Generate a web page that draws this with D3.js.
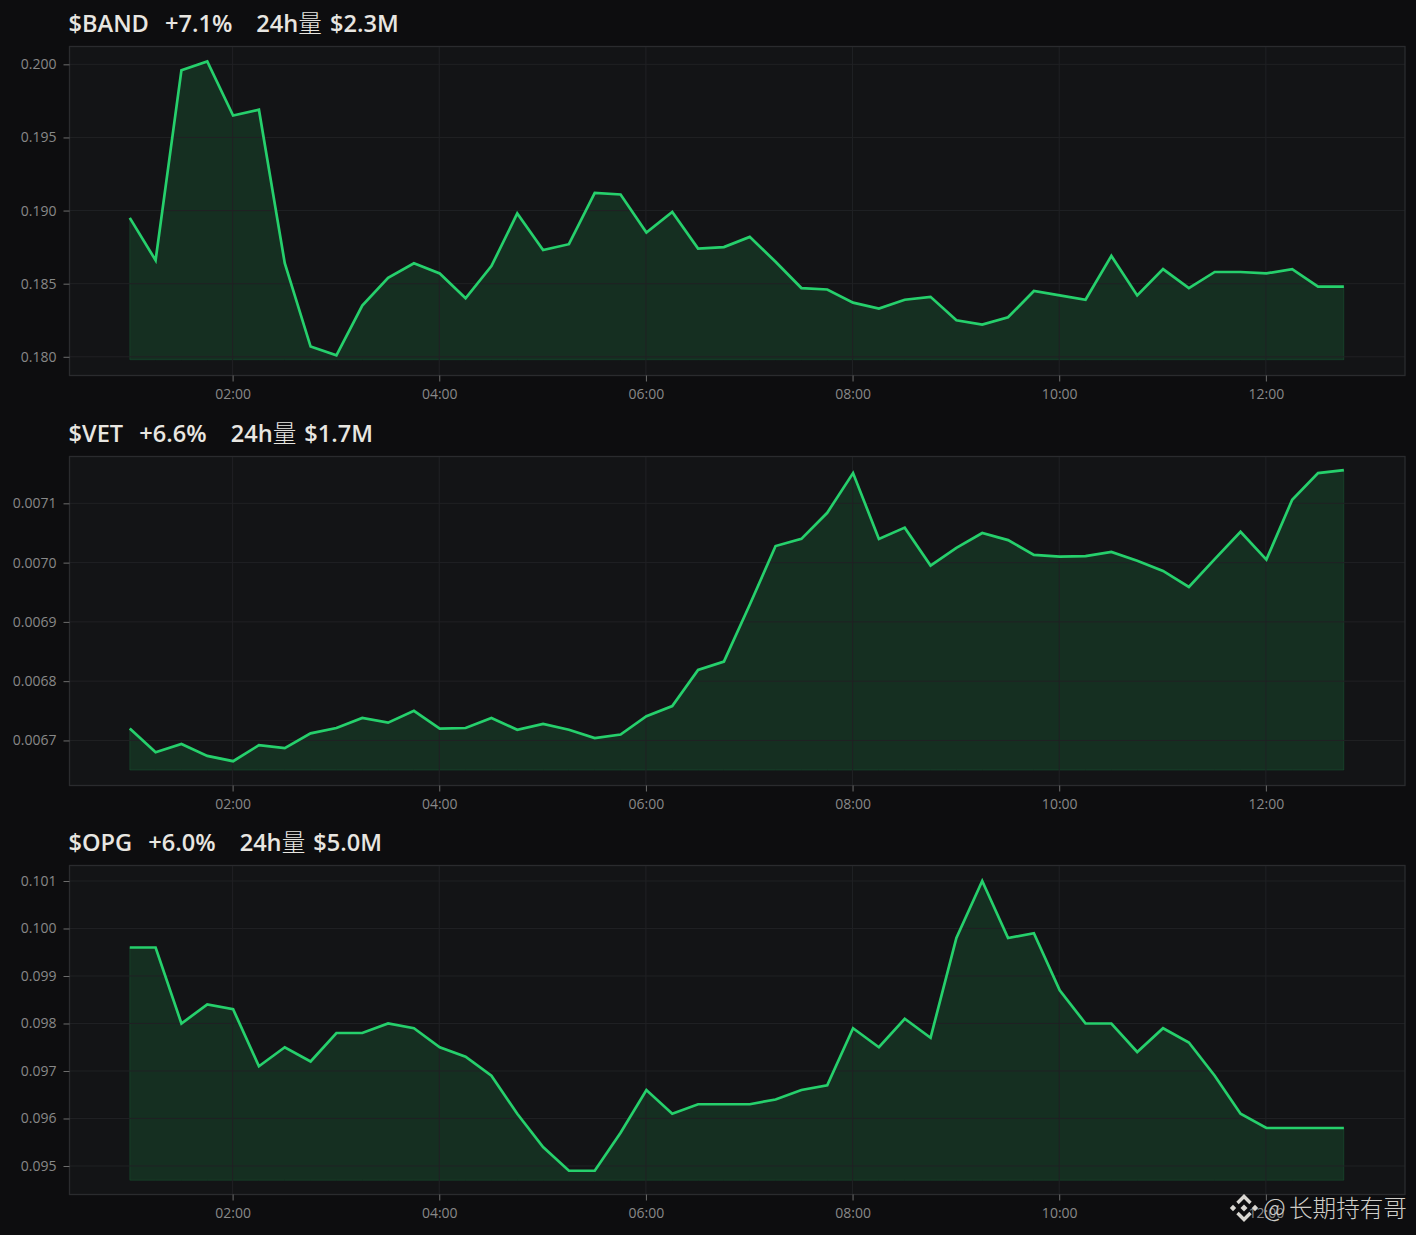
<!DOCTYPE html>
<html>
<head>
<meta charset="utf-8">
<script src="https://cdn.jsdelivr.net/npm/d3@7/dist/d3.min.js"></script>
<style>
html,body{margin:0;padding:0;background:#0d0d0f;}
svg{display:block;}
text{font-family:"Open Sans","Noto Sans","Noto Sans CJK SC",sans-serif;}
</style>
</head>
<body>
<svg id="c" width="1416" height="1235"></svg>
<script>
const times = ["01:00","01:15","01:30","01:45","02:00","02:15","02:30","02:45","03:00","03:15","03:30","03:45","04:00","04:15","04:30","04:45","05:00","05:15","05:30","05:45","06:00","06:15","06:30","06:45","07:00","07:15","07:30","07:45","08:00","08:15","08:30","08:45","09:00","09:15","09:30","09:45","10:00","10:15","10:30","10:45","11:00","11:15","11:30","11:45","12:00","12:15","12:30","12:45"];
const xTicks = ["02:00","04:00","06:00","08:00","10:00","12:00"];
const bandValues = [0.1895,0.1866,0.1996,0.2002,0.1965,0.1969,0.1864,0.1807,0.1801,0.1835,0.1854,0.1864,0.1857,0.1840,0.1862,0.1898,0.1873,0.1877,0.1912,0.1911,0.1885,0.1899,0.1874,0.1875,0.1882,0.1865,0.1847,0.1846,0.1837,0.1833,0.1839,0.1841,0.1825,0.1822,0.1827,0.1845,0.1842,0.1839,0.1869,0.1842,0.1860,0.1847,0.1858,0.1858,0.1857,0.1860,0.1848,0.1848];
const vetValues = [0.00672,0.00668,0.006694,0.006674,0.006665,0.006692,0.006687,0.006712,0.006721,0.006738,0.00673,0.00675,0.00672,0.006721,0.006738,0.006718,0.006728,0.006718,0.006704,0.00671,0.006741,0.006758,0.006819,0.006833,0.006929,0.007028,0.00704,0.007084,0.007151,0.00704,0.007059,0.006995,0.007025,0.00705,0.007038,0.007013,0.00701,0.007011,0.007018,0.007003,0.006986,0.006959,0.007006,0.007052,0.007005,0.007106,0.007151,0.007156];
const opgValues = [0.0996,0.0996,0.0980,0.0984,0.0983,0.0971,0.0975,0.0972,0.0978,0.0978,0.0980,0.0979,0.0975,0.0973,0.0969,0.0961,0.0954,0.0949,0.0949,0.0957,0.0966,0.0961,0.0963,0.0963,0.0963,0.0964,0.0966,0.0967,0.0979,0.0975,0.0981,0.0977,0.0998,0.1010,0.0998,0.0999,0.0987,0.0980,0.0980,0.0974,0.0979,0.0976,0.0969,0.0961,0.0958,0.0958,0.0958,0.0958];
const bandTicks = [0.180,0.185,0.190,0.195,0.200];
const vetTicks = [0.0067,0.0068,0.0069,0.0070,0.0071];
const opgTicks = [0.095,0.096,0.097,0.098,0.099,0.100,0.101];
const titleHead = ["$BAND  +7.1%   24h","$VET  +6.6%   24h","$OPG  +6.0%   24h"];
const titleTail = [" $2.3M"," $1.7M"," $5.0M"];
const titleUnit = "量";
const yDomains = [[0.17872,0.20122],[0.006624,0.007179],[0.0944,0.101326]];
const baselines = [0.1798,0.00665,0.0947];
const xDomain = ["00:25:00","13:20:30"];
const series = [bandValues,vetValues,opgValues];
const tickSets = [bandTicks,vetTicks,opgTicks];
const tickFormats = [".3f",".4f",".3f"];

const tops = [46.5,456.5,865.5];
const panelH = 329, left = 69.5, right = 1405;
const toDate = s => { const [h,m,sec=0]=s.split(":").map(Number); return new Date(Date.UTC(2024,0,1,h,m,sec)); };
const svg = d3.select("#c");
svg.append("rect").attr("width",1416).attr("height",1235).attr("fill","#0d0d0f");
const x = d3.scaleUtc().domain(xDomain.map(toDate)).range([left,right]);

series.forEach((vals,i)=>{
  const top = tops[i], bottom = top+panelH;
  const y = d3.scaleLinear().domain(yDomains[i]).range([bottom,top]);
  const g = svg.append("g");
  g.append("rect").attr("x",left).attr("y",top).attr("width",right-left).attr("height",panelH).attr("fill","#131416");
  const pts = vals.map((v,k)=>({t:toDate(times[k]),v}));
  const area = d3.area().x(d=>x(d.t)).y0(y(baselines[i])).y1(d=>y(d.v));
  g.append("path").datum(pts).attr("d",area).attr("fill","#22d16a").attr("fill-opacity",0.145)
    .attr("stroke","#22d16a").attr("stroke-opacity",0.14).attr("stroke-width",1);
  g.append("g").selectAll("line").data(tickSets[i]).join("line")
    .attr("x1",left).attr("x2",right).attr("y1",d=>y(d)).attr("y2",d=>y(d))
    .attr("stroke","#202124").attr("stroke-width",1);
  g.append("g").selectAll("line").data(xTicks).join("line")
    .attr("x1",d=>x(toDate(d))-0.5).attr("x2",d=>x(toDate(d))-0.5).attr("y1",top).attr("y2",bottom)
    .attr("stroke","#202124").attr("stroke-width",1);
  g.append("path").datum(pts).attr("d",d3.line().x(d=>x(d.t)).y(d=>y(d.v)))
    .attr("fill","none").attr("stroke","#26d06c").attr("stroke-width",2.7).attr("stroke-linejoin","miter");
  g.append("rect").attr("x",left).attr("y",top).attr("width",right-left).attr("height",panelH)
    .attr("fill","none").attr("stroke","#2a2b2e").attr("stroke-width",1.3);
  const ax = d3.axisBottom(x).tickValues(xTicks.map(toDate)).tickFormat(d3.utcFormat("%H:%M")).tickSize(6).tickPadding(8);
  const ag = g.append("g").attr("transform",`translate(-0.5,${bottom})`).call(ax);
  const ay = d3.axisLeft(y).tickValues(tickSets[i]).tickFormat(d3.format(tickFormats[i])).tickSize(6).tickPadding(7);
  const yg = g.append("g").attr("transform",`translate(${left},0)`).call(ay);
  [ag,yg].forEach(a=>{
    a.select(".domain").remove();
    a.selectAll("line").attr("stroke","#6e6e6e");
    a.selectAll("text").attr("fill","#888").attr("font-size",14).style("font-family",'"Open Sans",sans-serif');
  });
  const t = g.append("text").attr("x",68.5).attr("y",top-14.5).attr("fill","#e8e6e1")
    .attr("font-size",23.6).attr("font-weight",600).style("white-space","pre").attr("word-spacing",1.9);
  t.append("tspan").text(titleHead[i]);
  t.append("tspan").attr("font-weight",300).style("font-family",'"Noto Sans CJK SC",sans-serif').text(titleUnit);
  t.append("tspan").text(titleTail[i]);
});

// watermark
const wm = svg.append("g");
const logo = wm.append("g").attr("transform","translate(1244,1208)").attr("fill","#d9d7d2");
const dia = (cx,cy,r)=>logo.append("path").attr("d",`M${cx},${cy-r}L${cx+r},${cy}L${cx},${cy+r}L${cx-r},${cy}Z`);
dia(0,0,3.5); dia(-11,0,3.2); dia(11,0,3.2);
logo.append("path").attr("fill","none").attr("stroke","#d9d7d2").attr("stroke-width",3.4).attr("d","M-6.5,-5L0,-11.5L6.5,-5M-6.5,5L0,11.5L6.5,5");
const wt = wm.append("text").attr("y",1217).attr("fill","#cfcdc8").attr("font-weight",300)
  .style("font-family",'"Noto Sans CJK SC",sans-serif');
wt.append("tspan").attr("x",1263).attr("font-size",25).text("@");
wt.append("tspan").attr("x",1289).attr("font-size",23.6).text("长期持有哥");
</script>
</body>
</html>
